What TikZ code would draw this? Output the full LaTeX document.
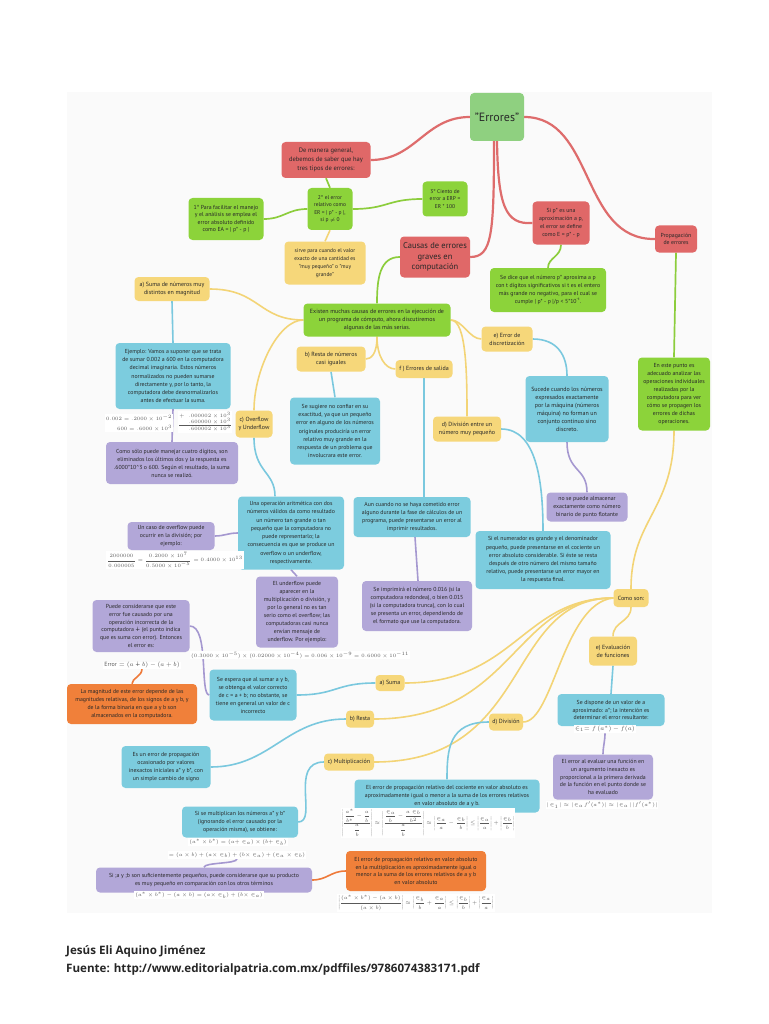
\documentclass[tikz,border=0pt]{standalone}
\usepackage{amsmath}
\usepackage{fontspec}
\setmainfont{PT Sans}
\newfontfamily\footfont{Open Sans}
\newfontfamily\dvfont{DejaVu Sans}
\usetikzlibrary{backgrounds}
\definecolor{cgreen}{RGB}{140,211,58}
\definecolor{cgreenE}{RGB}{143,208,128}
\definecolor{cred}{RGB}{224,104,104}
\definecolor{cyellow}{RGB}{246,215,122}
\definecolor{cblue}{RGB}{124,204,222}
\definecolor{cpurple}{RGB}{178,167,216}
\definecolor{corange}{RGB}{240,128,58}
\definecolor{txt}{RGB}{40,40,40}
\definecolor{lgreen}{RGB}{140,205,60}
\definecolor{lred}{RGB}{222,108,108}
\definecolor{lyellow}{RGB}{243,212,118}
\definecolor{lblue}{RGB}{122,200,222}
\definecolor{lpurple}{RGB}{165,152,208}
\definecolor{lorange}{RGB}{238,122,58}
\definecolor{bgc}{RGB}{250,250,250}
\newcommand\fs[2]{\fontsize{#1}{#2}\selectfont}
\newcommand\dplus{{\dvfont ∔}}
\begin{document}
\begin{tikzpicture}[x=1pt,y=-1pt,
  box/.style={rounded corners=4pt, align=center, text=txt, inner xsep=2pt, inner ysep=2pt, font=\fs{6}{7.8}},
  gbox/.style={box, fill=cgreen},
  rbox/.style={box, fill=cred},
  ybox/.style={box, fill=cyellow},
  bbox/.style={box, fill=cblue},
  pbox/.style={box, fill=cpurple},
  obox/.style={box, fill=corange},
  mth/.style={fill=white, inner sep=1pt, text=black!65, font=\fs{4.4}{5.4}},
  ered/.style={draw=lred, line width=2.2pt},
  egr/.style={draw=lgreen, line width=1.7pt},
  eye/.style={draw=lyellow, line width=1.6pt},
  ebl/.style={draw=lblue, line width=1.6pt},
  epu/.style={draw=lpurple, line width=1.6pt},
  eor/.style={draw=lorange, line width=1.6pt}
]
\useasboundingbox (0,0) rectangle (768,1024);
% ---------- nodes ----------
\node[box, fill=cgreenE, font=\fs{12}{14}, minimum width=54, minimum height=48] (E) at (497,117) {"Errores"};
\node[rbox, font=\fs{6.5}{9}, minimum width=89, minimum height=36] (DM) at (326,160) {De manera general,\\debemos de saber que hay\\tres tipos de errores:};
\node[gbox, font=\fs{5.5}{7.5}, minimum width=45, minimum height=42] (two) at (330,209) {2° el error\\relativo como\\ER = | p* - p |,\\si p $\neq$ 0};
\node[gbox, font=\fs{5.8}{7.6}, minimum width=75, minimum height=42] (one) at (226,219) {1° Para facilitar el manejo\\y el análisis se emplea el\\error absoluto definido\\como EA = | p* - p |};
\node[gbox, font=\fs{5.5}{7.5}, minimum width=45, minimum height=35] (three) at (445,199) {3° Ciento de\\error a ERP =\\ER * 100};
\node[ybox, font=\fs{5.5}{7.8}, minimum width=81, minimum height=43] (sirve) at (325,263) {sirve para cuando el valor\\exacto de una cantidad es\\"muy pequeño" o "muy\\grande"};
\node[rbox, font=\fs{8.5}{10.3}, minimum width=70, minimum height=41] (C) at (435,257) {Causas de errores\\graves en\\computación};
\node[rbox, font=\fs{5.8}{7.8}, minimum width=57, minimum height=43] (Sip) at (561,223) {Si p* es una\\aproximación a p,\\el error se define\\como E = p* - p};
\node[rbox, font=\fs{5.8}{7.8}, minimum width=42, minimum height=27] (P) at (676,239) {Propagación\\de errores};
\node[gbox, font=\fs{5.8}{7.8}, minimum width=116, minimum height=44] (SD) at (548,290) {Se dice que el número p* aproxima a p\\con t dígitos significativos si t es el entero\\más grande no negativo, para el cual se\\cumple | p* - p |/p < 5*10\textsuperscript{-t}.};
\node[ybox, minimum width=75, minimum height=24] (aS) at (172,289) {a) Suma de números muy\\distintos en magnitud};
\node[gbox, minimum width=147, minimum height=33] (X) at (377,320) {Existen muchas causas de errores en la ejecución de\\un programa de cómputo, ahora discutiremos\\algunas de las más serias.};
\node[ybox, minimum width=51, minimum height=25] (eE) at (507,339) {e) Error de\\discretización};
\node[ybox, minimum width=69, minimum height=25] (bR) at (331,359) {b) Resta de números\\casi iguales};
\node[ybox, minimum width=57, minimum height=18] (fE) at (424,369) {f ) Errores de salida};
\node[gbox, font=\fs{5.8}{7.9}, minimum width=72, minimum height=73] (EP) at (674,394) {En este punto es\\adecuado analizar las\\operaciones individuales\\realizadas por la\\computadora para ver\\cómo se propagen los\\errores de dichas\\operaciones.};
\node[bbox, font=\fs{5.8}{8.2}, minimum width=115, minimum height=66] (Ej) at (173,376) {Ejemplo: Vamos a suponer que se trata\\de sumar 0.002 a 600 en la computadora\\decimal imaginaria. Estos números\\normalizados no pueden sumarse\\directamente y, por lo tanto, la\\computadora debe desnormalizarlos\\antes de efectuar la suma.};
\node[bbox, font=\fs{6}{8}, minimum width=83, minimum height=66] (Su) at (567,409) {Sucede cuando los números\\expresados exactamente\\por la máquina (números\\máquina) no forman un\\conjunto continuo sino\\discreto.};
\node[bbox, font=\fs{5.8}{8.2}, minimum width=90, minimum height=67] (SS) at (335,431) {Se sugiere no confiar en su\\exactitud, ya que un pequeño\\error en alguno de los números\\originales produciría un error\\relativo muy grande en la\\respuesta de un problema que\\involucrara este error.};
\node[ybox, minimum width=37, minimum height=27] (cO) at (254,424) {c) Overflow\\y Underflow};
\node[ybox, minimum width=68, minimum height=25] (dD) at (467,429) {d) División entre un\\número muy pequeño};
\node[pbox, font=\fs{5.8}{8}, minimum width=132, minimum height=42] (CS) at (172,463) {Como sólo puede manejar cuatro dígitos, son\\eliminados los últimos dos y la respuesta es\\.6000*10\textasciicircum3 o 600. Según el resultado, la suma\\nunca se realizó.};
\node[pbox, font=\fs{5.8}{7.8}, minimum width=81, minimum height=29] (NS) at (587,507) {no se puede almacenar\\exactamente como número\\binario de punto flotante};
\node[bbox, font=\fs{5.8}{8.3}, minimum width=106, minimum height=73] (Un) at (291,533) {Una operación aritmética con dos\\números válidos da como resultado\\un número tan grande o tan\\pequeño que la computadora no\\puede representarlo; la\\consecuencia es que se produce un\\overflow o un underflow,\\respectivamente.};
\node[bbox, font=\fs{5.8}{8}, minimum width=117, minimum height=40] (Aun) at (412,517) {Aun cuando no se haya cometido error\\alguno durante la fase de cálculos de un\\programa, puede presentarse un error al\\imprimir resultados.};
\node[bbox, font=\fs{5.8}{8.2}, minimum width=135, minimum height=58] (SN) at (543,560) {Si el numerador es grande y el denominador\\pequeño, puede presentarse en el cociente un\\error absoluto considerable. Si éste se resta\\después de otro número del mismo tamaño\\relativo, puede presentarse un error mayor en\\la respuesta final.};
\node[pbox, font=\fs{5.8}{7.8}, minimum width=87, minimum height=28] (UC) at (171,536) {Un caso de overflow puede\\ocurrir en la división; por\\ejemplo:};
\node[pbox, font=\fs{5.8}{8.1}, minimum width=82, minimum height=71] (UF) at (297,612) {El underflow puede\\aparecer en la\\multiplicación o división, y\\por lo general no es tan\\serio como el overflow; las\\computadoras casi nunca\\envían mensaje de\\underflow. Por ejemplo:};
\node[pbox, font=\fs{5.8}{8}, minimum width=110, minimum height=50] (SI) at (417,606) {Se imprimirá el número 0.016 (si la\\computadora redondea), o bien 0.015\\(si la computadora trunca), con lo cual\\se presenta un error, dependiendo de\\el formato que use la computadora.};
\node[ybox, minimum width=35, minimum height=18] (CoS) at (631,598) {Como son:};
\node[pbox, font=\fs{5.8}{7.7}, minimum width=97, minimum height=52] (PC) at (141,626) {Puede considerarse que este\\error fue causado por una\\operación incorrecta de la\\computadora \dplus{} (el punto indica\\que es suma con error). Entonces\\el error es:};
\node[ybox, minimum width=48, minimum height=29] (eV) at (613,651) {e) Evaluación\\de funciones};
\node[bbox, font=\fs{5.8}{8}, minimum width=87, minimum height=51] (SE) at (253,695) {Se espera que al sumar a y b,\\se obtenga el valor correcto\\de c = a + b; no obstante, se\\tiene en general un valor de c\\incorrecto};
\node[ybox, minimum width=29, minimum height=16] (aS2) at (390,683) {a) Suma};
\node[obox, font=\fs{5.8}{8}, minimum width=130, minimum height=40] (LM) at (132,704) {La magnitud de este error depende de las\\magnitudes relativas, de los signos de a y b, y\\de la forma binaria en que a y b son\\almacenados en la computadora.};
\node[ybox, minimum width=28, minimum height=17] (bR2) at (360,719) {b) Resta};
\node[ybox, minimum width=34, minimum height=17] (dD2) at (506,722) {d) División};
\node[bbox, font=\fs{5.8}{7.8}, minimum width=107, minimum height=32] (SDp) at (611,710) {Se dispone de un valor de a\\aproximado: a*; la intención es\\determinar el error resultante:};
\node[bbox, font=\fs{5.8}{8}, minimum width=89, minimum height=42] (EU) at (166,767) {Es un error de propagación\\ocasionado por valores\\inexactos iniciales a* y b*, con\\un simple cambio de signo};
\node[ybox, minimum width=50, minimum height=17] (cM) at (349,762) {c) Multiplicación};
\node[bbox, font=\fs{5.8}{7.8}, minimum width=185, minimum height=33] (EC) at (447,796) {El error de propagación relativo del cociente en valor absoluto es\\aproximadamente igual o menor a la suma de los errores relativos\\en valor absoluto de a y b.};
\node[pbox, font=\fs{5.8}{7.8}, minimum width=100, minimum height=45] (EV) at (603,777) {El error al evaluar una función en\\un argumento inexacto es\\proporcional a la primera derivada\\de la función en el punto donde se\\ha evaluado};
\node[bbox, font=\fs{5.8}{7.8}, minimum width=116, minimum height=31] (SM) at (240,822) {Si se multiplican los números a* y b*\\(ignorando el error causado por la\\operación misma), se obtiene:};
\node[pbox, font=\fs{5.8}{7.8}, minimum width=216, minimum height=25] (SA) at (204,880) {Si ;a y ;b son suficientemente pequeños, puede considerarse que su producto\\es muy pequeño en comparación con los otros términos};
\node[obox, font=\fs{5.8}{7.8}, minimum width=140, minimum height=40] (OM) at (416,871) {El error de propagación relativo en valor absoluto\\en la multiplicación es aproximadamente igual o\\menor a la suma de los errores relativos de a y b\\en valor absoluto};
% ---------- formulas ----------
\node[mth, align=right, font=\fs{3.8}{4.6}] (m1) at (139,423) {$0.002=.2000\times10^{-2}$\\[3pt]$600=.6000\times10^{3}$};
\node[mth, font=\fs{3.9}{4.7}] (m1b) at (205,422) {$\begin{array}{@{}r@{}}+\;\;.000002\times10^{3}\\ .600000\times10^{3}\\ \hline .600002\times10^{3}\end{array}$};
\node[mth] (m2) at (175,560) {$\dfrac{2000000}{0.000005}=\dfrac{0.2000\times10^{7}}{0.5000\times10^{-5}}=0.4000\times10^{13}$};
\node[mth, font=\fs{4.1}{5}] (m3) at (300,655) {$(0.3000\times10^{-5})\times(0.02000\times10^{-4})=0.006\times10^{-9}=0.6000\times10^{-11}$};
\node[mth, font=\fs{6}{7}, inner ysep=0.5pt] (m4) at (142,665) {$\mathrm{Error}=(a\mathbin{\text{\dplus}}b)-(a+b)$};
\node[mth, font=\fs{6}{7}] (m5) at (605,729) {$\in_1=f\,(a^*)-f(a)$};
\node[mth, font=\fs{5.4}{6}] (m6) at (602,805) {$|\!\in_1\!|\approx|\!\in_a\! f'(a^*)|\approx|\!\in_a\!|\,|f'(a^*)|$};
\node[mth] (m7) at (238,842) {$(a^*\times b^*)=(a+\in_a)\times(b+\in_b)$};
\node[mth] (m7b) at (237,855) {$=(a\times b)+(a\times\in_b)+(b\times\in_a)+(\in_a\times\in_b)$};
\node[mth] (m8) at (199,895) {$(a^*\times b^*)-(a\times b)=(a\times\in_b)+(b\times\in_a)$};
\node[mth, font=\fs{4.1}{5}] (m9) at (416,903) {$\left|\dfrac{(a^*\times b^*)-(a\times b)}{(a\times b)}\right|\approx\left|\dfrac{\in_b}{b}+\dfrac{\in_a}{a}\right|\leq\left|\dfrac{\in_b}{b}\right|+\left|\dfrac{\in_a}{a}\right|$};
\node[mth, font=\fs{3.8}{4.5}] (m10) at (428,823) {$\left|\dfrac{\dfrac{a^*}{b^*}-\dfrac{a}{b}}{\dfrac{a}{b}}\right|\approx\left|\dfrac{\dfrac{\in_a}{b}-\dfrac{a\in_b}{b^2}}{\dfrac{a}{b}}\right|\approx\left|\dfrac{\in_a}{a}-\dfrac{\in_b}{b}\right|\leq\left|\dfrac{\in_a}{a}\right|+\left|\dfrac{\in_b}{b}\right|$};
% ---------- footer ----------
\node[anchor=west, inner sep=0pt, text=black!85, font=\footfont\bfseries\fs{11.6}{13}] (au) at (66,951) {Jesús Eli Aquino Jiménez};
\node[anchor=west, inner sep=0pt, text=black!85, font=\footfont\bfseries\fs{11.6}{13}] (fu) at (66,969) {Fuente: http://www.editorialpatria.com.mx/pdffiles/9786074383171.pdf};
% ---------- connectors ----------
\begin{pgfonlayer}{background}
\fill[bgc] (67,92) rectangle (712,913);
\draw[ered] (E.west) .. controls +(-45,0) and +(45,0) .. (DM.east);
\draw[ered] ([xshift=-3pt]E.south) .. controls (494,235) and (492,257) .. (C.east);
\draw[ered] (E.south) .. controls (498,205) and (505,225) .. (Sip.west);
\draw[ered] (E.east) .. controls (595,117) and (580,240) .. (P.west);
\draw[egr] (DM.south) -- (two.north);
\draw[egr] (two.west) .. controls +(-20,0) and +(20,0) .. (one.east);
\draw[egr] (two.east) .. controls +(35,0) and +(-35,0) .. (three.west);
\draw[eye] (two.south) -- (sirve.north);
\draw[egr] (C.west) .. controls +(-20,0) and +(0,-25) .. (X.north);
\draw[egr] (Sip.south) .. controls +(0,12) and +(0,-10) .. (SD.north);
\draw[egr] (P.south) -- (EP.north);
\draw[eye] (X.west) .. controls +(-45,0) and +(50,0) .. (aS.east);
\draw[eye] (X.west) .. controls +(-25,0) and +(0,-40) .. (cO.north);
\draw[eye] (X.south) .. controls +(0,18) and +(5,0) .. (bR.east);
\draw[eye] (X.south) .. controls +(0,20) and +(-10,0) .. (fE.west);
\draw[eye] (X.east) .. controls +(16,0) and +(0,-40) .. (dD.north);
\draw[eye] (X.east) .. controls +(12,0) and +(-12,0) .. (eE.west);
\draw[ebl] (aS.south) -- (Ej.north);
\draw[epu] (Ej.south) -- (CS.north);
\draw[ebl] (bR.south) -- (SS.north);
\draw[ebl] (eE.east) .. controls +(25,0) and +(0,-20) .. (Su.north);
\draw[epu] (Su.south) .. controls +(0,30) and +(0,-25) .. (NS.north);
\draw[ebl] (cO.south) .. controls +(0,35) and +(0,-25) .. ([xshift=-16pt]Un.north);
\draw[epu] (Un.west) .. controls +(-10,0) and +(10,0) .. (UC.east);
\draw[epu] (Un.south) -- (UF.north);
\draw[ebl] (fE.south) -- (fE.south |- Aun.north);
\draw[epu] ([xshift=3pt]Aun.south) -- ([xshift=1pt]SI.north);
\draw[ebl] (dD.east) .. controls +(35,0) and +(0,-50) .. (SN.north);
\draw[eye] (EP.south) .. controls +(0,80) and +(0,-70) .. (CoS.north);
\draw[eye] (CoS.south) .. controls +(0,15) and +(0,-15) .. (eV.north);
\draw[eye] (CoS.west) .. controls +(-90,0) and +(110,0) .. (aS2.east);
\draw[eye] (CoS.west) .. controls +(-100,0) and +(140,0) .. (bR2.east);
\draw[eye] (CoS.west) .. controls +(-110,0) and +(160,0) .. (cM.east);
\draw[eye] (CoS.west) .. controls +(-50,5) and +(30,0) .. (dD2.east);
\draw[ebl] (eV.south) -- (SDp.north);
\draw[epu] (m5.south) .. controls +(0,8) and +(0,-8) .. (EV.north);
\draw[ebl] (aS2.west) .. controls +(-40,0) and +(40,0) .. (SE.east);
\draw[epu] (SE.west) .. controls +(-10,0) and +(20,0) .. (PC.east);
\draw[eor] (m4.south) .. controls +(0,8) and +(0,-6) .. (LM.north);
\draw[ebl] (bR2.west) .. controls +(-60,0) and +(60,0) .. (EU.east);
\draw[ebl] (cM.west) .. controls +(-35,0) and +(20,0) .. (SM.east);
\draw[ebl] (dD2.west) .. controls +(-40,0) and +(0,-30) .. (EC.north);
\draw[epu] (m7b.south) .. controls +(0,5) and +(0,-5) .. (SA.north);
\draw[eor] (SA.east) .. controls +(15,0) and +(-15,0) .. (OM.west);
\end{pgfonlayer}
\end{tikzpicture}
\end{document}
